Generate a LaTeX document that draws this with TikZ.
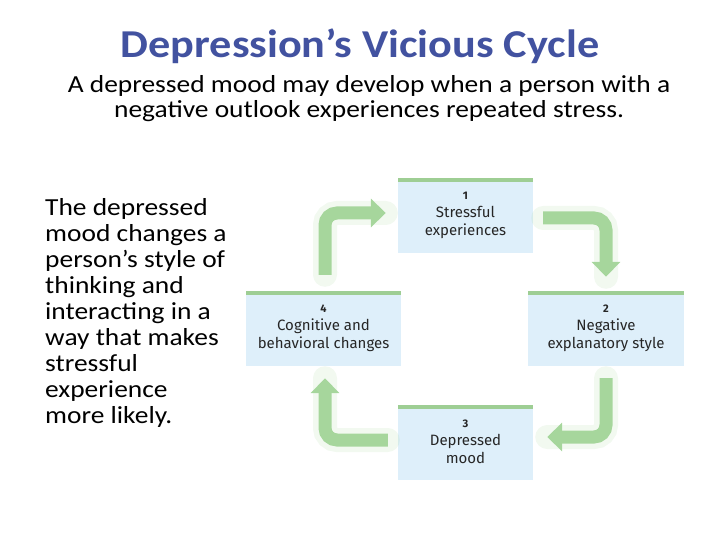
\documentclass[tikz,border=0pt]{standalone}
\usepackage{fontspec}
\setmainfont[FakeStretch=1.12]{Carlito}
\newfontfamily\boxfont{Fira Sans}
\usetikzlibrary{arrows.meta}

\definecolor{titleblue}{RGB}{66,82,160}
\definecolor{cyclegreen}{RGB}{166,214,156}
\definecolor{boxblue}{RGB}{222,239,250}
\definecolor{bargreen}{RGB}{158,206,148}

\begin{document}
\begin{tikzpicture}[x=1pt, y=-1pt, >=Latex]
    \tikzstyle{stage}=[fill=boxblue, minimum height=75pt, align=center, inner sep=0pt, text=black!85,
        font=\boxfont\fontsize{15}{18}\selectfont,
        path picture={\fill[bargreen] (path picture bounding box.north west) rectangle ([yshift=-4pt]path picture bounding box.north east);}]
    \tikzstyle{cyc}=[draw=cyclegreen, line width=13pt, rounded corners=12pt, -{Triangle[length=15pt, width=28pt]},
        preaction={draw=cyclegreen, opacity=0.15, line width=24pt, line cap=round, -}]
    \useasboundingbox (0,0) rectangle (720,540);

    \node[text=titleblue, font=\bfseries\fontsize{39.5}{44}\selectfont] (title) at (360,46) {Depression’s Vicious Cycle};
    \node[align=center, font=\fontsize{24.5}{25}\selectfont] (sub) at (369,99) {A depressed mood may develop when a person with a\\negative outlook experiences repeated stress.};

    \node[anchor=north west, align=left, inner sep=0pt, font=\fontsize{24.5}{26}\selectfont] (note) at (45,198)
        {The depressed\\mood changes a\\person’s style of\\thinking and\\interacting in a\\way that makes\\stressful\\experience\\more likely.};

    \node[stage, minimum width=135pt] (stress) at (465.5,215.5) {{\bfseries\fontsize{11}{18}\selectfont 1}\\Stressful\\experiences};
    \node[stage, minimum width=156pt] (style) at (606,328.5) {{\bfseries\fontsize{11}{18}\selectfont 2}\\Negative\\explanatory style};
    \node[stage, minimum width=135pt] (mood) at (465.5,442) {{\bfseries\fontsize{11}{18}\selectfont 3}\\Depressed\\mood};
    \node[stage, minimum width=155pt] (change) at (323.5,328.5) {{\bfseries\fontsize{11}{18}\selectfont 4}\\Cognitive and\\behavioral changes};

    \draw[cyc] ([xshift=1.5pt, yshift=16pt]change.north) |- ([xshift=-12pt, yshift=2.5pt]stress.west);
    \draw[cyc] ([xshift=10pt, yshift=-2.5pt]stress.east) -| ([yshift=14pt]style.north);
    \draw[cyc] ([yshift=-12pt]style.south) |- ([xshift=14pt, yshift=5pt]mood.east);
    \draw[cyc] ([xshift=-10pt, yshift=2pt]mood.west) -| ([xshift=1.5pt, yshift=-12pt]change.south);
\end{tikzpicture}
\end{document}
